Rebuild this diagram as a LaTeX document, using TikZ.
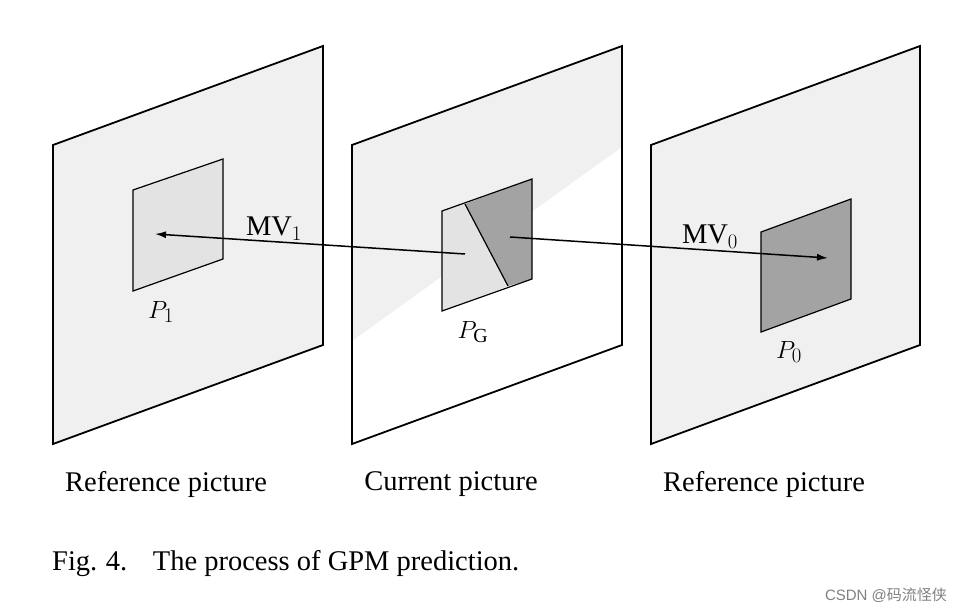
\documentclass[tikz,border=0pt]{standalone}
\usepackage{fontspec}
\setmainfont{Liberation Serif}
\newfontfamily\cjk{Noto Sans CJK SC}
\usetikzlibrary{arrows.meta}
\begin{document}
\begin{tikzpicture}[x=1pt,y=-1pt,
  frame/.style={draw=black,line width=1.8pt,line join=miter},
  patch/.style={draw=black,line width=1.2pt},
  mv/.style={-{Latex[length=11pt,width=7pt]},line width=1.5pt},
  lbl/.style={font=\fontsize{28.5}{32}\selectfont,inner sep=0pt}]
\useasboundingbox (0,0) rectangle (960,612);
\definecolor{lg}{gray}{0.94}
\definecolor{mg}{gray}{0.89}
\definecolor{dg}{gray}{0.64}
% left panel
\draw[frame,fill=lg] (53,145) -- (323,46) -- (323,345) -- (53,444) -- cycle;
\draw[patch,fill=mg] (133,190) -- (223,159) -- (223,259) -- (133,291) -- cycle;
% middle panel
\fill[lg] (352,145) -- (622,46) -- (622,147) -- (352,341) -- cycle;
\draw[frame] (352,145) -- (622,46) -- (622,345) -- (352,444) -- cycle;
\fill[mg] (442,211) -- (465,204) -- (508,286) -- (442,311) -- cycle;
\fill[dg] (465,204) -- (532,179) -- (532,279) -- (508,286) -- cycle;
\draw[patch] (442,211) -- (532,179) -- (532,279) -- (442,311) -- cycle;
\draw[patch] (465,204) -- (508,286);
% right panel
\draw[frame,fill=lg] (651,145) -- (920,46) -- (920,345) -- (651,444) -- cycle;
\draw[patch,fill=dg] (761,232) -- (851,199) -- (851,299) -- (761,332) -- cycle;
% arrows
\coordinate (a1s) at (465,254); \coordinate (a1e) at (155,234);
\coordinate (a0s) at (510,237); \coordinate (a0e) at (828,258);
\draw[mv] (a1s) -- (a1e);
\draw[mv] (a0s) -- (a0e);
% labels
\node[lbl] (mv1) at (274,229) {MV$_1$};
\node[lbl] (mv0) at (710,237) {MV$_0$};
\node[lbl] (p1) at (161,312) {$P_1$};
\node[lbl] (pg) at (473,332) {$P_{\mathrm{G}}$};
\node[lbl] (p0) at (789,352) {$P_0$};
\node[lbl] (c1) at (166,484) {Reference picture};
\node[lbl] (c2) at (451,484) {Current picture};
\node[lbl] (c3) at (764,484) {Reference picture};
\node[lbl,anchor=west] (fig) at (52,564) {Fig.\hspace{0.3em}4.\hspace{0.9em}The process of GPM prediction.};
\node[inner sep=0pt,text=gray,font=\fontsize{15}{17}\selectfont] (wm) at (886,595) {\fontspec{Liberation Sans}CSDN @{\cjk 码流怪侠}};
\end{tikzpicture}
\end{document}
